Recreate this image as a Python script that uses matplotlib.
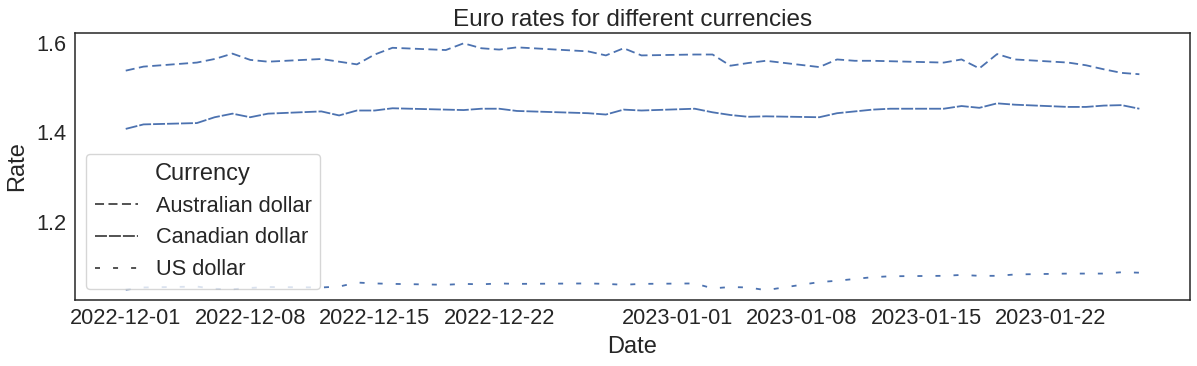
import matplotlib
matplotlib.use("Agg")
import matplotlib.pyplot as plt
import pandas as pd
from matplotlib.lines import Line2D

dates = ["2022-12-01", "2022-12-02", "2022-12-05", "2022-12-06", "2022-12-07", "2022-12-08",
         "2022-12-09", "2022-12-12", "2022-12-13", "2022-12-14", "2022-12-15", "2022-12-16",
         "2022-12-19", "2022-12-20", "2022-12-21", "2022-12-22", "2022-12-23", "2022-12-27",
         "2022-12-28", "2022-12-29", "2022-12-30", "2023-01-02", "2023-01-03", "2023-01-04",
         "2023-01-05", "2023-01-06", "2023-01-09", "2023-01-10", "2023-01-11", "2023-01-12",
         "2023-01-13", "2023-01-16", "2023-01-17", "2023-01-18", "2023-01-19", "2023-01-20",
         "2023-01-23", "2023-01-24", "2023-01-25", "2023-01-26", "2023-01-27"]

australian_dollar = [1.538, 1.547, 1.556, 1.564, 1.576, 1.562, 1.558, 1.564, 1.558, 1.552,
                     1.574, 1.589, 1.584, 1.599, 1.588, 1.585, 1.590, 1.581, 1.572, 1.588,
                     1.572, 1.574, 1.574, 1.549, 1.555, 1.560, 1.546, 1.563, 1.560, 1.560,
                     1.559, 1.556, 1.563, 1.543, 1.575, 1.563, 1.556, 1.550, 1.541, 1.533,
                     1.530]

canadian_dollar = [1.408, 1.418, 1.421, 1.434, 1.442, 1.434, 1.442, 1.447, 1.438, 1.449,
                   1.449, 1.454, 1.451, 1.450, 1.453, 1.453, 1.448, 1.443, 1.440, 1.451,
                   1.449, 1.453, 1.445, 1.439, 1.435, 1.436, 1.434, 1.443, 1.447, 1.451,
                   1.453, 1.453, 1.459, 1.455, 1.465, 1.462, 1.457, 1.457, 1.460, 1.461,
                   1.453]

us_dollar = [1.049, 1.054, 1.056, 1.051, 1.050, 1.053, 1.055, 1.054, 1.056, 1.065,
             1.063, 1.062, 1.060, 1.062, 1.061, 1.063, 1.062, 1.063, 1.062, 1.060,
             1.062, 1.063, 1.052, 1.055, 1.054, 1.048, 1.066, 1.069, 1.073, 1.077,
             1.079, 1.080, 1.082, 1.080, 1.080, 1.083, 1.085, 1.085, 1.085, 1.088,
             1.087]

currencies = ["Australian dollar", "Canadian dollar", "US dollar"]
series = [australian_dollar, canadian_dollar, us_dollar]
dash_styles = [(6.5, 3.2), (8.6, 1.45), (3.6, 9.4)]

xtick_labels = ["2022-12-01", "2022-12-08", "2022-12-15", "2022-12-22",
                "2023-01-01", "2023-01-08", "2023-01-15", "2023-01-22"]
ytick_values = [1.2, 1.4, 1.6]

plt.rcParams["font.family"] = ["Liberation Sans", "DejaVu Sans"]
plt.rcParams["lines.scale_dashes"] = False
text_color = "#262626"

fig = plt.figure(figsize=(11.97, 3.66), dpi=100)
ax = fig.add_axes([0.0627, 0.1803, 0.9315, 0.7295])

x = pd.to_datetime(dates)
line_color = "#4c72b0"
for name, vals, d in zip(currencies, series, dash_styles):
    ax.plot(x, vals, color=line_color, lw=1.3, dashes=d)

handles = [Line2D([], [], color="#444444", lw=1.3, dashes=d) for d in dash_styles]
leg = ax.legend(handles, currencies, title="Currency", loc="lower left",
                fontsize=15.7, title_fontsize=17.0, frameon=True, framealpha=0.8,
                edgecolor="0.8")
for t in leg.get_texts():
    t.set_color(text_color)
leg.get_title().set_color(text_color)

ax.set_ylim(1.026, 1.622)
ax.set_yticks(ytick_values)
ax.set_yticklabels([f"{v:.1f}" for v in ytick_values])
ax.set_xticks(pd.to_datetime(xtick_labels))
ax.set_xticklabels(xtick_labels)
ax.tick_params(axis="both", length=0, labelsize=15.7, labelcolor=text_color, pad=6)

ax.set_xlabel("Date", fontsize=17.0, color=text_color, labelpad=5)
ax.set_ylabel("Rate", fontsize=17.0, color=text_color, labelpad=6)
ax.set_title("Euro rates for different currencies", fontsize=17.5, color=text_color, pad=5)

for s in ax.spines.values():
    s.set_color("#262626")
    s.set_linewidth(1.1)

fig.savefig("out.png", dpi=100)
